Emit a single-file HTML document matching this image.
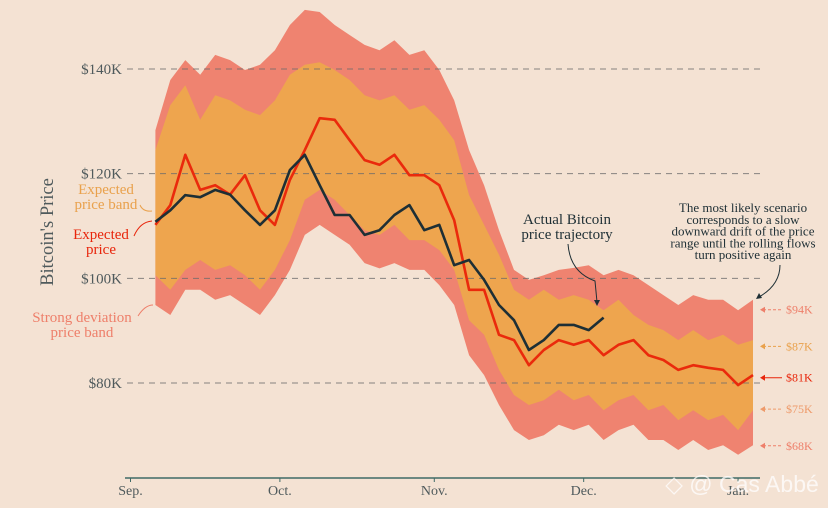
<!DOCTYPE html>
<html><head><meta charset="utf-8">
<style>
html,body{margin:0;padding:0;background:#f4e2d3;}
svg{display:block;font-family:"Liberation Serif",serif;}
</style></head>
<body>
<svg id="chart" width="828" height="508" viewBox="0 0 828 508">
<rect width="828" height="508" fill="#f4e2d3"/>
<g id="bands"></g>
<g id="grid"></g>
<g id="lines"></g>
<g id="axis"></g>
<g id="annot"></g>
</svg>
<script>
const startDay = 5; // days after Sep 1
const stepDays = 3;
const expected = [110.2,114,123.6,116.9,117.8,116,119.7,113,110.2,118.8,124.5,130.6,130.3,126.4,122.6,121.7,123.6,119.7,119.7,117.8,111.1,97.8,97.8,89.2,88.2,83.4,86.3,88.2,87.3,88.2,85.3,87.3,88.2,85.3,84.4,82.5,83.4,82.9,82.5,79.6,81.5];
const actual = [110.8,113,115.9,115.5,116.9,116,113,110.2,113,120.7,123.6,117.8,112.1,112.1,108.3,109.2,112.1,114,109.2,110.2,102.5,103.5,99.7,94.9,92,86.3,88.2,91.1,91.1,90.1,92.5];
const innerUpper = [124.5,133.1,136.9,130.3,135,134,132.2,131.2,134,138.9,140.8,141.3,139.8,137.9,135,134,135,132.2,133.1,130.3,126.4,115.9,110.2,104.5,97.8,95.9,97.8,95.9,96.8,95.9,93.9,95.9,93,91.1,90.1,88.2,90.1,88.2,89.2,87.3,88.2];
const innerLower = [100.6,97.8,101.6,103.5,101.6,102.5,100.6,97.8,101.6,107.3,115,116.9,115,112.1,109.2,108.3,110.2,107.3,107.3,105.4,101.6,92,89.2,82.5,77.7,75.8,76.7,78.7,76.7,77.7,74.8,76.7,77.7,74.8,75.8,72.9,74.8,72.9,73.9,71,74.8];
const outerUpper = [128.3,137.9,141.7,138.9,142.7,141.7,139.8,140.8,143.6,148.4,151.3,150.9,148.4,146.5,144.6,143.6,145.5,142.7,143.6,139.8,134,124.5,117.8,109.2,101.6,99.7,100.6,101.6,102,102.5,100.6,101.6,100.6,98.7,96.8,94.9,96.8,95.9,95.9,93.9,95.9];
const outerLower = [94.9,93,97.8,97.8,95.9,96.8,94.9,93,96.8,101.6,108.3,110.2,108.3,106.4,102.9,101.9,102.9,101.6,101.6,98.7,94.9,85.3,81.5,75.8,71,69.1,70,72,71,72,69.1,71,72,69.1,69.1,67.2,69.1,67.2,68.1,66.3,68.1];
const yTicks = [140,120,100,80];
const yTickLabels = ["$140K","$120K","$100K","$80K"];
const months = ["Sep.","Oct.","Nov.","Dec.","Jan."];
const monthDays = [0,30,61,91,122];
const endLabels = [94,87,81,75,68];
const endLabelText = ["$94K","$87K","$81K","$75K","$68K"];
const endLabelColors = ["#ee7f6a","#e9a14c","#e8250b","#ee9a6a","#ee7f6a"];

const NS="http://www.w3.org/2000/svg";
function xs(day){return 130.5 + day*4.98;}
function ys(v){return 69 + (140-v)*5.233;}
function xi(i){return xs(startDay + i*stepDays);}
function mk(tag,attrs,parent){const e=document.createElementNS(NS,tag);for(const k in attrs)e.setAttribute(k,attrs[k]);parent.appendChild(e);return e;}
function bandPath(up,lo){let d="";up.forEach((v,i)=>{d+=(i?"L":"M")+xi(i).toFixed(1)+","+ys(v).toFixed(1);});for(let i=lo.length-1;i>=0;i--)d+="L"+xi(i).toFixed(1)+","+ys(lo[i]).toFixed(1);return d+"Z";}
function linePath(a){return a.map((v,i)=>(i?"L":"M")+xi(i).toFixed(1)+","+ys(v).toFixed(1)).join("");}

const bands=document.getElementById('bands');
const ob=mk('path',{d:bandPath(outerUpper,outerLower),fill:"#ef8370"},bands);


const ib=mk('path',{d:bandPath(innerUpper,innerLower),fill:"#eea54e"},bands);



const grid=document.getElementById('grid');
yTicks.forEach((t,i)=>{
  const y=ys(t);
  const l=mk('line',{x1:127,x2:760,y1:y,y2:y,stroke:"#6b6b6b","stroke-width":1,"stroke-dasharray":"6,5",opacity:0.8},grid);
  
  
  const tx=mk('text',{x:122,y:y+5,"text-anchor":"end","font-size":15,fill:"#4f5a5c"},grid);
  tx.textContent=yTickLabels[i];
  
  
});

const lines=document.getElementById('lines');
const el=mk('path',{d:linePath(expected),fill:"none",stroke:"#ea2a0c","stroke-width":2.6,"stroke-linejoin":"round"},lines);


const al=mk('path',{d:linePath(actual),fill:"none",stroke:"#1e2f35","stroke-width":2.6,"stroke-linejoin":"round"},lines);



const axis=document.getElementById('axis');
const ax=mk('line',{x1:125,x2:760,y1:478,y2:478,stroke:"#3f6a66","stroke-width":1.5},axis);


months.forEach((m,i)=>{
  const x=xs(monthDays[i]);
  const tk=mk('line',{x1:x,x2:x,y1:478,y2:482,stroke:"#3f6a66","stroke-width":1},axis);
  
  
  const t=mk('text',{x:x,y:495,"text-anchor":"middle","font-size":14,fill:"#4f5a5c"},axis);
  t.textContent=m;
  
  
});

const annot=document.getElementById('annot');
endLabels.forEach((v,i)=>{
  const y=ys(v);
  const c=endLabelColors[i];
  const bold=i===2;
  const ln=mk('line',{x1:763,x2:782,y1:y,y2:y,stroke:c,"stroke-width":1,"stroke-dasharray":bold?"none":"3,2"},annot);
  
  
  const ah=mk('path',{d:`M760,${y}l5,-3v6z`,fill:c},annot);
  
  
  const t=mk('text',{x:786,y:y+4,"font-size":12,fill:c},annot);
  t.textContent=endLabelText[i];
  
  
});
</script>
<svg width="828" height="508" style="position:absolute;left:0;top:0">
<text transform="translate(53,232) rotate(-90)" text-anchor="middle" font-size="18.5" fill="#4f5a5c" font-family="Liberation Serif,serif">Bitcoin's Price</text>
<g font-family="Liberation Serif,serif" font-size="15" text-anchor="middle">
<text x="106" y="194" fill="#e9a14c"><tspan x="106">Expected</tspan><tspan x="106" dy="15">price band</tspan></text>
<text x="101" y="239" fill="#e8250b"><tspan x="101">Expected</tspan><tspan x="101" dy="15">price</tspan></text>
<text x="82" y="322" fill="#ee7f6a"><tspan x="82">Strong deviation</tspan><tspan x="82" dy="15">price band</tspan></text>
<text x="567" y="224" fill="#1e2f35"><tspan x="567">Actual Bitcoin</tspan><tspan x="567" dy="15">price trajectory</tspan></text>
</g>
<g font-family="Liberation Serif,serif" font-size="13" text-anchor="middle" fill="#1e2f35">
<text x="743" y="212"><tspan x="743">The most likely scenario</tspan><tspan x="743" dy="11.8">corresponds to a slow</tspan><tspan x="743" dy="11.8">downward drift of the price</tspan><tspan x="743" dy="11.8">range until the rolling flows</tspan><tspan x="743" dy="11.8">turn positive again</tspan></text>
</g>
<g fill="none" stroke-width="1">
<path d="M140,205 Q143,212 152,211" stroke="#e9a14c"/>
<path d="M134,236 Q140,222 152,221" stroke="#e8250b"/>
<path d="M138,316 Q145,305 153,305" stroke="#ee7f6a"/>
<path d="M568,244 Q570,272 595,281 L597,302" stroke="#1e2f35"/>
<path d="M780,265 Q780,285 759,297" stroke="#1e2f35"/>
</g>
<path d="M597,306 l-3,-6 h6z" fill="#1e2f35"/>
<path d="M756,299 l3,-6 l3,5z" fill="#1e2f35"/>
<text x="742" y="492" font-family="Liberation Sans,sans-serif" font-size="23" fill="#ffffff" opacity="0.75" text-anchor="middle">◇ @ Cas Abbé</text>
</svg>
</body></html>
